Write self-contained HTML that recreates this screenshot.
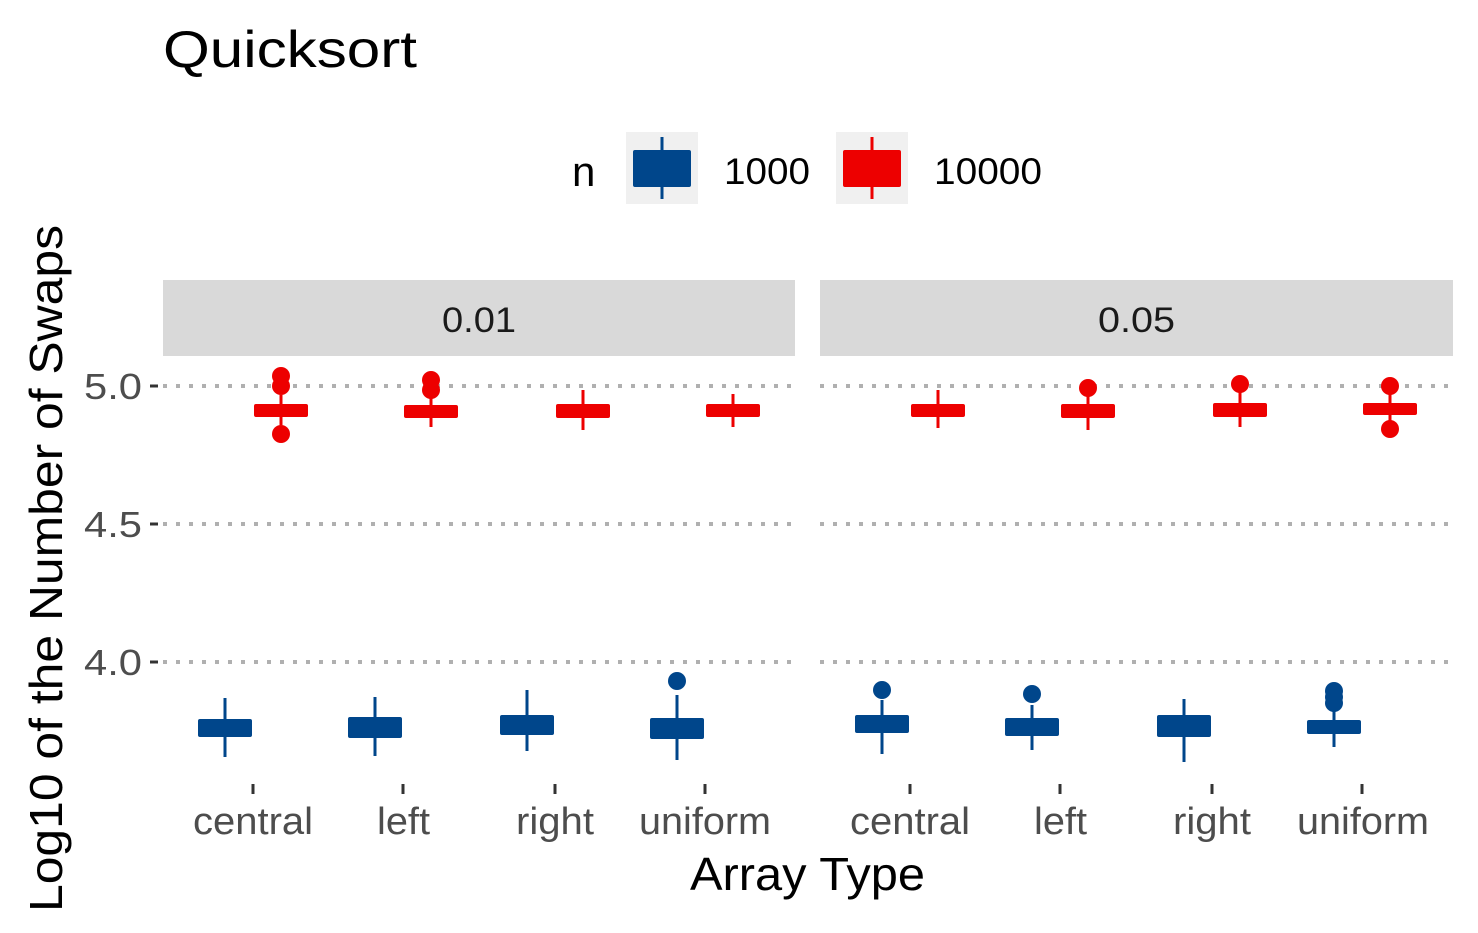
<!DOCTYPE html><html><head><style>body{margin:0;background:#fff}</style></head><body>
<svg width="1478" height="928" xmlns="http://www.w3.org/2000/svg" font-family="Liberation Sans, sans-serif">
<rect width="1478" height="928" fill="#fff"/>
<text x="163" y="67" font-size="52" fill="#000" textLength="254" lengthAdjust="spacingAndGlyphs">Quicksort</text>
<text x="572" y="186" font-size="42" fill="#000">n</text>
<rect x="626" y="132" width="72" height="72" fill="#f0f0f0"/>
<rect x="633" y="150" width="58" height="37" fill="#00468b" rx="2"/><line x1="662" y1="137" x2="662" y2="199" stroke="#00468b" stroke-width="3"/>
<text x="724" y="184" font-size="37" textLength="86" lengthAdjust="spacingAndGlyphs">1000</text>
<rect x="836" y="132" width="72" height="72" fill="#f0f0f0"/>
<rect x="843" y="150" width="58" height="37" fill="#ed0000" rx="2"/><line x1="872" y1="137" x2="872" y2="199" stroke="#ed0000" stroke-width="3"/>
<text x="934" y="184" font-size="37" textLength="108" lengthAdjust="spacingAndGlyphs">10000</text>
<rect x="163" y="280" width="632" height="76" fill="#d9d9d9"/>
<rect x="820" y="280" width="633" height="76" fill="#d9d9d9"/>
<text x="442" y="332" font-size="35" fill="#1a1a1a" textLength="74" lengthAdjust="spacingAndGlyphs">0.01</text>
<text x="1098" y="332" font-size="35" fill="#1a1a1a" textLength="77" lengthAdjust="spacingAndGlyphs">0.05</text>
<g stroke="#b0b0b0" stroke-width="4" stroke-dasharray="4,9">
<line x1="163" y1="386" x2="795" y2="386"/><line x1="163" y1="524" x2="795" y2="524"/><line x1="163" y1="662" x2="795" y2="662"/>
<line x1="820" y1="386" x2="1453" y2="386"/><line x1="820" y1="524" x2="1453" y2="524"/><line x1="820" y1="662" x2="1453" y2="662"/>
</g>
<g stroke="#333" stroke-width="3">
<line x1="150" y1="386" x2="158" y2="386"/><line x1="150" y1="524" x2="158" y2="524"/><line x1="150" y1="662" x2="158" y2="662"/>
<line x1="253" y1="784" x2="253" y2="794"/><line x1="403" y1="784" x2="403" y2="794"/><line x1="555" y1="784" x2="555" y2="794"/><line x1="705" y1="784" x2="705" y2="794"/>
<line x1="910" y1="784" x2="910" y2="794"/><line x1="1060" y1="784" x2="1060" y2="794"/><line x1="1212" y1="784" x2="1212" y2="794"/><line x1="1362" y1="784" x2="1362" y2="794"/>
</g>
<g font-size="36" fill="#4d4d4d"><text x="84" y="399" textLength="58" lengthAdjust="spacingAndGlyphs">5.0</text><text x="84" y="537" textLength="58" lengthAdjust="spacingAndGlyphs">4.5</text><text x="84" y="675" textLength="58" lengthAdjust="spacingAndGlyphs">4.0</text></g>
<g font-size="38" fill="#4d4d4d">
<text x="193" y="834" textLength="120" lengthAdjust="spacingAndGlyphs">central</text><text x="377" y="834" textLength="53" lengthAdjust="spacingAndGlyphs">left</text><text x="516" y="834" textLength="78" lengthAdjust="spacingAndGlyphs">right</text><text x="639" y="834" textLength="132" lengthAdjust="spacingAndGlyphs">uniform</text>
<text x="850" y="834" textLength="120" lengthAdjust="spacingAndGlyphs">central</text><text x="1034" y="834" textLength="53" lengthAdjust="spacingAndGlyphs">left</text><text x="1173" y="834" textLength="78" lengthAdjust="spacingAndGlyphs">right</text><text x="1297" y="834" textLength="132" lengthAdjust="spacingAndGlyphs">uniform</text>
</g>
<text x="690" y="890" font-size="46" textLength="235" lengthAdjust="spacingAndGlyphs">Array Type</text>
<text transform="translate(62,912) rotate(-90)" font-size="46" textLength="687" lengthAdjust="spacingAndGlyphs">Log10 of the Number of Swaps</text>
<g id="boxes"></g>
</svg>
<script>
const g=document.getElementById('boxes');
const d=[
[253,[404,417,395,425,[376,386,434]],[719,737,698,757,[]]],
[403,[405,418,395,427,[380,390]],[717,738,697,756,[]]],
[555,[404,418,390,430,[]],[715,735,690,751,[]]],
[705,[404,417,394,427,[]],[718,739,695,760,[681]]],
[910,[404,417,390,428,[]],[715,733,700,754,[690]]],
[1060,[404,418,392,430,[388]],[718,736,705,750,[694]]],
[1212,[403,417,392,427,[384]],[715,737,699,762,[]]],
[1362,[403,415,393,424,[386,429]],[720,734,707,747,[691,697,703]]]];
let s='';
function box(cx,b,c){s+=`<line x1="${cx}" y1="${b[2]}" x2="${cx}" y2="${b[3]}" stroke="${c}" stroke-width="3"/>`;
s+=`<rect x="${cx-27}" y="${b[0]}" width="54" height="${b[1]-b[0]}" rx="2" fill="${c}"/>`;
b[4].forEach(y=>s+=`<circle cx="${cx}" cy="${y}" r="9" fill="${c}"/>`);}
d.forEach(r=>{box(r[0]+28,r[1],'#ed0000');box(r[0]-28,r[2],'#00468b');});
g.innerHTML=s;
</script>
</body></html>
